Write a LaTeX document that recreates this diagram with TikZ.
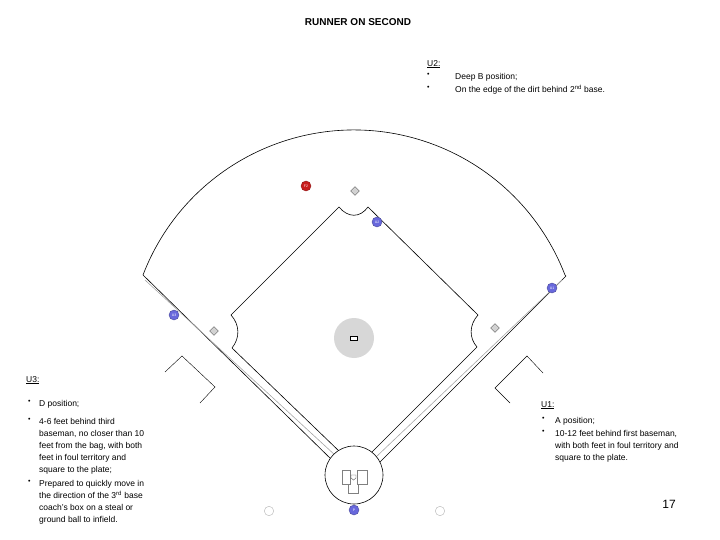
\documentclass[tikz,border=0pt]{standalone}
\usepackage{fontspec}
\setmainfont{Liberation Sans}
\usetikzlibrary{shapes.geometric}
\definecolor{umpblue}{RGB}{104,104,220}
\definecolor{fldred}{RGB}{200,30,30}
\definecolor{moundgray}{RGB}{215,215,215}
\newcommand{\dotb}{{\fontsize{7}{8}\selectfont\textbullet}}
\begin{document}
\begin{tikzpicture}[x=1pt,y=-1pt,
                    every node/.style={font=\fontsize{8.5}{12}\selectfont},
                    txt/.style={anchor=north west,inner sep=0pt,align=left},
                    ump/.style={circle,draw=umpblue!70!black,fill=umpblue,minimum size=10pt,inner sep=0pt,text=white,font=\fontsize{3.5}{4}\selectfont},
                    fld/.style={circle,draw=fldred!70!black,fill=fldred,minimum size=10pt,inner sep=0pt,text=white,font=\fontsize{3.5}{4}\selectfont},
                    bag/.style={diamond,draw=gray!70!black,fill=gray!35,minimum size=9pt,inner sep=0pt}
                ]
                \useasboundingbox (0,0) rectangle (720,540);
                \node[font=\bfseries\fontsize{10}{12}\selectfont] (title) at (358,22) {RUNNER ON SECOND};
                % outfield fence and foul lines
                \draw[semithick] (143,275) arc[start angle=201,end angle=339,radius=226] -- (566,276);
                \draw[semithick] (143,275) -- (332,460);
                \draw[semithick] (566,276) -- (380,462);
                \draw[gray!70,semithick] (145,280) -- (336,456);
                \draw[gray!70,semithick] (562,280) -- (376,457);
                % infield dirt
                \draw[semithick] (232,348) -- (340,452);
                \draw[semithick] (477,347) -- (372,452);
                \draw[semithick] (232,348) .. controls (240,338) and (240,325) .. (231,315)
                    -- (339,207) .. controls (348,218) and (360,218) .. (368,207)
                    -- (478,315) .. controls (469,325) and (469,338) .. (477,347);
                % home plate area
                \node[circle,draw,semithick,fill=white,minimum size=58pt,inner sep=0pt] (home) at (354,475) {};
                \draw[gray] (342,470) rectangle (350,484);
                \draw[gray] (357,470) rectangle (367,484);
                \draw[gray] (348,484) -- (348,493) -- (358,493) -- (358,484);
                \draw[gray!70!black] (351,475) -- (356,475) -- (356,478) -- (353.5,480) -- (351,478) -- cycle;
                % mound and bases
                \node[circle,fill=moundgray,minimum size=40pt] (mound) at (354,338) {};
                \draw[fill=white] (350.5,336.5) rectangle (357.5,340);
                \node[bag] (second) at (355,191) {};
                \node[bag] (third) at (214,331) {};
                \node[bag] (first) at (495,328) {};
                % coaches' boxes
                \draw (165,372) -- (182,356) -- (215,387) -- (200,403);
                \draw (543,373) -- (527,356) -- (495,388) -- (510,403);
                \node[circle,draw=gray!60,minimum size=9pt] (deckL) at (269,511) {};
                \node[circle,draw=gray!60,minimum size=9pt] (deckR) at (440,511) {};
                % umpires
                \node[ump] (u1) at (552,288) {U1};
                \node[ump] (u2) at (377,222) {U2};
                \node[ump] (u3) at (174,315) {U3};
                \node[ump] (p) at (354,510) {P};
                \node[fld] (f) at (306,186) {F2};
                % notes
                \node[txt] (u2h) at (427,60) {\underline{U2:}};
                \node[txt,font=\fontsize{8.5}{13}\selectfont] (u2b) at (427,73) {\dotb\\\dotb};
                \node[txt,font=\fontsize{8.5}{13}\selectfont] (u2t) at (455,73) {Deep B position;\\On the edge of the dirt behind 2\textsuperscript{nd} base.};
                \node[txt] (u3h) at (26,376) {\underline{U3:}};
                \node[txt] (u3a) at (28,400) {\dotb};
                \node[txt] (u3at) at (39,400) {D position;};
                \node[txt] (u3b) at (28,418) {\dotb};
                \node[txt] (u3bt) at (39,418) {4-6 feet behind third\\baseman, no closer than 10\\feet from the bag, with both\\feet in foul territory and\\square to the plate;};
                \node[txt] (u3c) at (28,480) {\dotb};
                \node[txt] (u3ct) at (39,480) {Prepared to quickly move in\\the direction of the 3\textsuperscript{rd} base\\coach's box on a steal or\\ground ball to infield.};
                \node[txt] (u1h) at (541,401) {\underline{U1:}};
                \node[txt] (u1a) at (542,417) {\dotb};
                \node[txt] (u1at) at (555,417) {A position;};
                \node[txt] (u1b) at (542,430) {\dotb};
                \node[txt] (u1bt) at (555,430) {10-12 feet behind first baseman,\\with both feet in foul territory and\\square to the plate.};
                \node[font=\fontsize{12}{14}\selectfont] (pg) at (669,504) {17};
            \end{tikzpicture}
\end{document}
